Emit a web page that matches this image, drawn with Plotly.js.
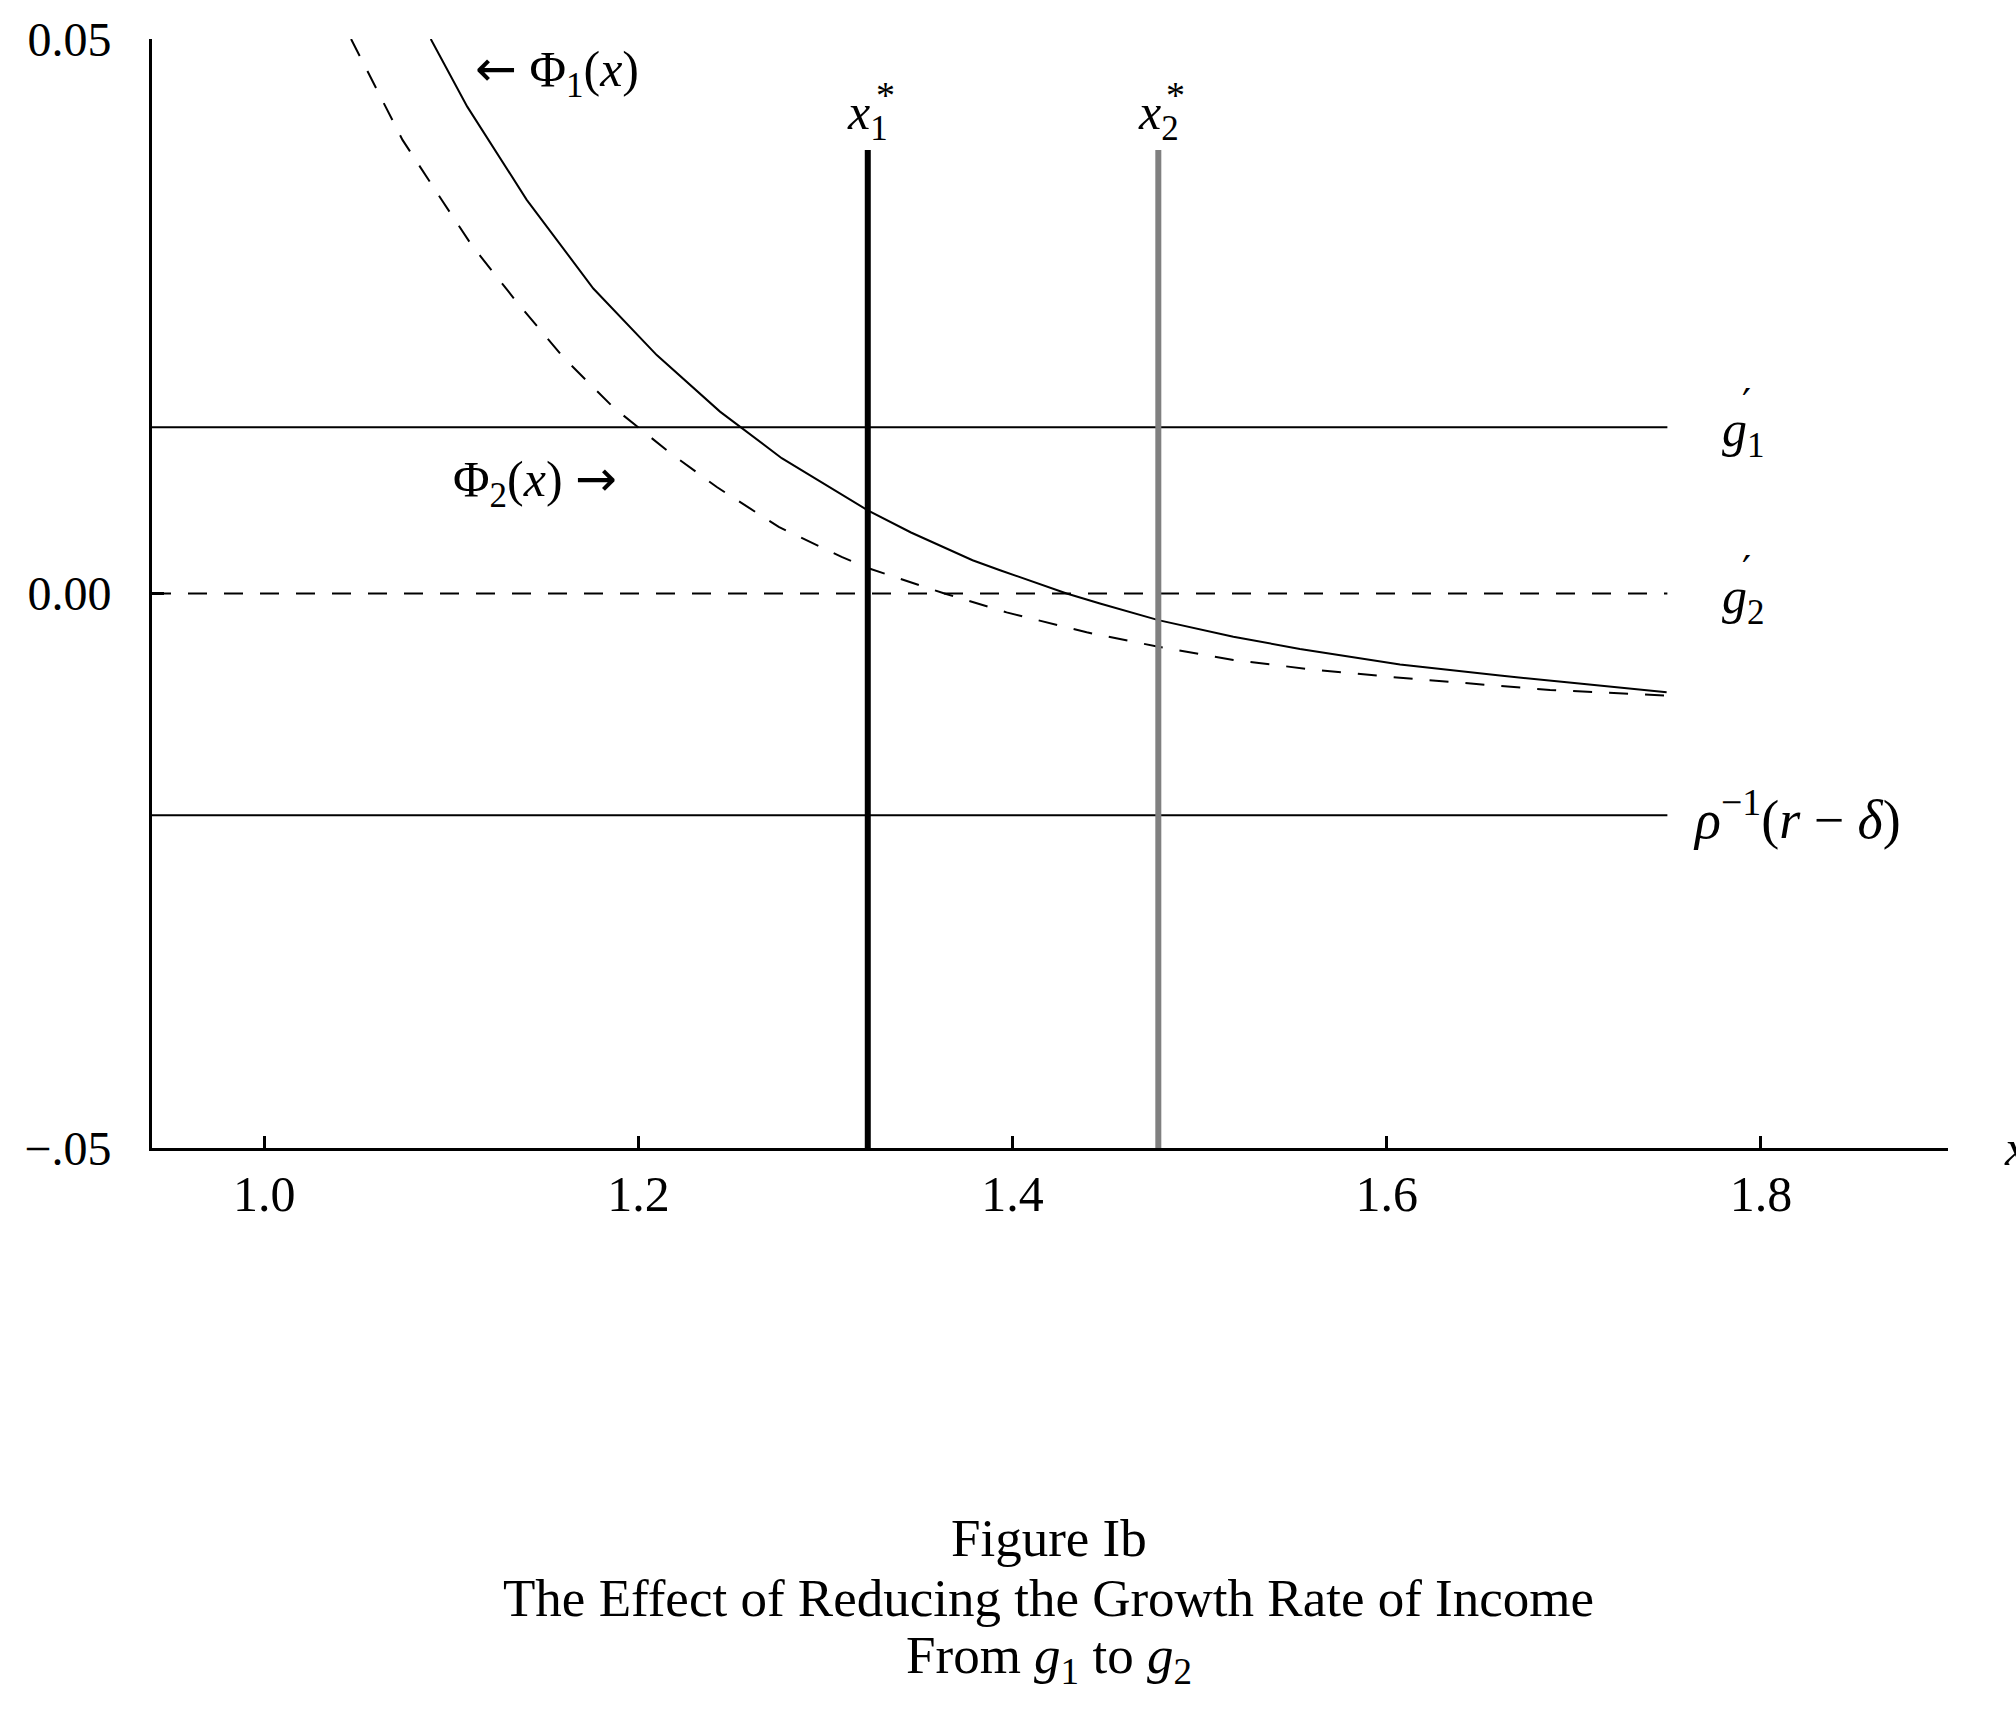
<!DOCTYPE html>
<html>
<head>
<meta charset="utf-8">
<script src="https://cdn.plot.ly/plotly-3.0.1.min.js"></script>
<style>html,body{margin:0;padding:0;background:#fff;}#chart{width:2016px;height:1709px;}</style>
</head>
<body>
<div id="chart"></div>
<script>
// ---- data ----
const phi1X = [1.0890, 1.1085, 1.1403, 1.1759, 1.2098, 1.2436, 1.2766, 1.3226, 1.3457, 1.3786, 1.3933, 1.4289, 1.4467, 1.4779, 1.5180, 1.5536, 1.6071, 1.6605, 1.6962, 1.7496];
const phi1Y = [0.0500, 0.0439, 0.0355, 0.0275, 0.0215, 0.0164, 0.0122, 0.0075, 0.0055, 0.0030, 0.0021, 0.0000, -0.0009, -0.0024, -0.0039, -0.0050, -0.0064, -0.0074, -0.0080, -0.0089];
const phi2X = [1.0464, 1.0595, 1.0739, 1.0948, 1.1109, 1.1349, 1.1598, 1.1865, 1.2008, 1.2160, 1.2419, 1.2750, 1.3086, 1.3226, 1.3636, 1.3968, 1.4396, 1.4779, 1.5180, 1.5625, 1.6071, 1.6873, 1.7496];
const phi2Y = [0.0500, 0.0457, 0.0409, 0.0355, 0.0314, 0.0263, 0.0213, 0.0168, 0.0149, 0.0128, 0.0096, 0.0060, 0.0033, 0.0023, 0.0000, -0.0017, -0.0035, -0.0048, -0.0060, -0.0069, -0.0076, -0.0087, -0.0092];
const hLineX = [0.94, 1.75];
const g1Prime = 0.015;
const g2Prime = 0.0;
const rhoLevel = -0.02;
const xStar1 = 1.3226;
const xStar2 = 1.4779;
const vLineY = [-0.05, 0.04];
const xTickVals = [1.0, 1.2, 1.4, 1.6, 1.8];
const xTickText = ['1.0', '1.2', '1.4', '1.6', '1.8'];
const yTickVals = [-0.05, 0.0, 0.05];
const yTickText = ['\u2212.05', '0.00', '0.05'];
const captionLines = ['Figure Ib', 'The Effect of Reducing the Growth Rate of Income', 'From <i>g</i><sub>1</sub> to <i>g</i><sub>2</sub>'];

const FONT = 'Liberation Serif, Times New Roman, serif';
const FS = 48;
const LFS = 50;
const ARROW_L = '<span style="font-family:DejaVu Sans">\u2190</span>';
const ARROW_R = '<span style="font-family:DejaVu Sans">\u2192</span>';

const traces = [
  {x: phi1X, y: phi1Y, mode: 'lines', line: {color: '#000', width: 2}},
  {x: phi2X, y: phi2Y, mode: 'lines', line: {color: '#000', width: 2, dash: '19px,17px'}},
  {x: hLineX, y: [g1Prime, g1Prime], mode: 'lines', line: {color: '#000', width: 2}},
  {x: hLineX, y: [g2Prime, g2Prime], mode: 'lines', line: {color: '#000', width: 2, dash: '19px,17px'}},
  {x: hLineX, y: [rhoLevel, rhoLevel], mode: 'lines', line: {color: '#000', width: 2}},
  {x: [xStar1, xStar1], y: vLineY, mode: 'lines', line: {color: '#000', width: 6}},
  {x: [xStar2, xStar2], y: vLineY, mode: 'lines', line: {color: '#808080', width: 6}}
];

function ann(x, y, text, opts) {
  return Object.assign({x: x, y: y, xref: 'x', yref: 'y', text: text, showarrow: false,
    font: {family: FONT, size: LFS, color: '#000'}}, opts || {});
}
const smallFont = {family: FONT, size: 38, color: '#000'};
const primeFont = {family: 'DejaVu Serif', size: 40, color: '#000'};

const annotations = [
  ann(1.1116, 0.0470, ARROW_L + ' \u03A6<sub>1</sub>(<i>x</i>)', {xanchor: 'left', yanchor: 'middle'}),
  ann(1.1000, 0.0100, '\u03A6<sub>2</sub>(<i>x</i>) ' + ARROW_R, {xanchor: 'left', yanchor: 'middle'}),
  ann(xStar1, vLineY[1], '<i>x</i><sub>1</sub>', {xanchor: 'center', yanchor: 'bottom', yshift: 0}),
  ann(xStar1, vLineY[1], '*', {xanchor: 'left', yanchor: 'bottom', xshift: 6, yshift: 32, font: smallFont}),
  ann(xStar2, vLineY[1], '<i>x</i><sub>2</sub>', {xanchor: 'center', yanchor: 'bottom', yshift: 0}),
  ann(xStar2, vLineY[1], '*', {xanchor: 'left', yanchor: 'bottom', xshift: 6, yshift: 32, font: smallFont}),
  ann(1.778, g1Prime, '<i>g</i><sub>1</sub>', {xanchor: 'left', yanchor: 'middle', yshift: -6}),
  ann(1.778, g1Prime, '\u2032', {xanchor: 'left', yanchor: 'middle', xshift: 20, yshift: 24, font: primeFont}),
  ann(1.778, g2Prime, '<i>g</i><sub>2</sub>', {xanchor: 'left', yanchor: 'middle', yshift: -6}),
  ann(1.778, g2Prime, '\u2032', {xanchor: 'left', yanchor: 'middle', xshift: 20, yshift: 24, font: primeFont}),
  ann(1.7626, rhoLevel, '<i>\u03C1</i><sup>\u22121</sup>(<i>r</i> \u2212 <i>\u03B4</i>)', {xanchor: 'left', yanchor: 'middle', font: {family: FONT, size: 54, color: '#000'}}),
  {x: 1.03, y: -0.05, xref: 'paper', yref: 'y', text: '<i>x</i>', showarrow: false, xanchor: 'left', yanchor: 'middle',
   font: {family: FONT, size: LFS, color: '#000'}},
  {x: 0.4994, y: -0.3515, xref: 'paper', yref: 'paper', text: captionLines[0], showarrow: false, xanchor: 'center', yanchor: 'middle', font: {family: FONT, size: 53, color: '#000'}},
  {x: 0.4994, y: -0.4056, xref: 'paper', yref: 'paper', text: captionLines[1], showarrow: false, xanchor: 'center', yanchor: 'middle', font: {family: FONT, size: 53, color: '#000'}},
  {x: 0.4994, y: -0.4606, xref: 'paper', yref: 'paper', text: captionLines[2], showarrow: false, xanchor: 'center', yanchor: 'middle', font: {family: FONT, size: 53, color: '#000'}}
];

const layout = {
  width: 2016, height: 1709,
  margin: {l: 152, r: 68, t: 39, b: 561, pad: 0},
  paper_bgcolor: '#fff', plot_bgcolor: '#fff',
  showlegend: false,
  font: {family: FONT, size: FS, color: '#000'},
  xaxis: {
    range: [0.94, 1.90], showgrid: false, zeroline: false,
    showline: true, linecolor: '#000', linewidth: 3,
    ticks: 'inside', ticklen: 12, tickwidth: 3, tickcolor: '#000',
    tickvals: xTickVals, ticktext: xTickText,
    tickfont: {family: FONT, size: 50, color: '#000'}, ticklabelstandoff: 0
  },
  yaxis: {
    range: [-0.05, 0.05], showgrid: false, zeroline: false,
    showline: true, linecolor: '#000', linewidth: 3,
    ticks: 'inside', ticklen: 12, tickwidth: 3, tickcolor: '#000',
    tickvals: yTickVals, ticktext: yTickText,
    tickfont: {family: FONT, size: FS, color: '#000'}, ticklabelstandoff: 28
  },
  annotations: annotations
};

Plotly.newPlot('chart', traces, layout, {staticPlot: true, displayModeBar: false});
</script>
</body>
</html>
